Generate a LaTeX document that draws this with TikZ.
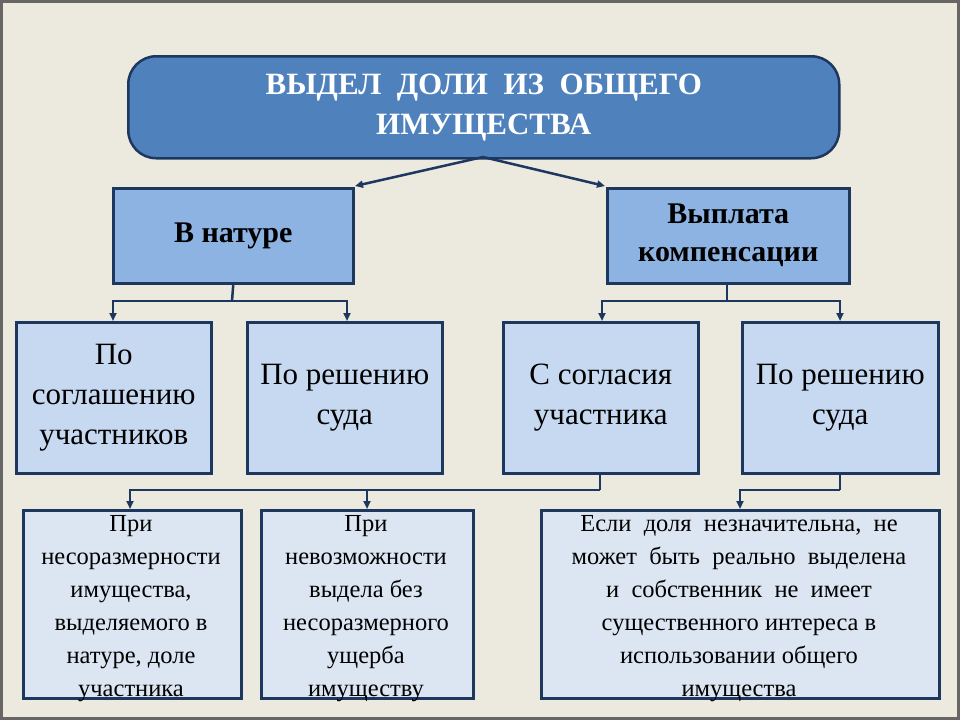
\documentclass[tikz,border=0pt]{standalone}
\usepackage{fontspec}
\setmainfont{Liberation Serif}
\usetikzlibrary{arrows.meta}
\definecolor{navy}{RGB}{30,55,95}
\definecolor{topblue}{RGB}{79,129,189}
\definecolor{midblue}{RGB}{141,179,226}
\definecolor{lightblue}{RGB}{198,217,241}
\definecolor{paleblue}{RGB}{220,230,242}
\definecolor{bg}{RGB}{236,233,222}
\tikzset{
 box/.style={draw=navy,line width=2.5pt,anchor=north west,inner sep=0pt,align=center},
 conn/.style={draw=navy,line width=2.5pt},
 arr/.style={conn,-{Triangle[length=8pt,width=7pt]}},
 t4/.style={anchor=north,align=center,inner sep=0pt,font=\fontsize{24.5}{33}\selectfont},
}
\begin{document}
\begin{tikzpicture}[x=1pt,y=-1pt]
\useasboundingbox (0,0) rectangle (960,720);
\fill[bg] (0,0) rectangle (960,720);
\draw[black!60,line width=3pt] (1.5,1.5) rectangle (958.5,718.5);
\node[box,fill=topblue,rounded corners=28pt,minimum width=711pt,minimum height=102pt,text=white,font=\bfseries\fontsize{31}{40}\selectfont] (top) at (127,55) {ВЫДЕЛ\ \ ДОЛИ\ \ ИЗ\ \ ОБЩЕГО\\ ИМУЩЕСТВА};
\node[box,fill=midblue,minimum width=240pt,minimum height=95pt,font=\bfseries\fontsize{30}{36}\selectfont] (nat) at (112,187) {\raisebox{-4pt}{В натуре}};
\node[box,fill=midblue,minimum width=242pt,minimum height=95pt,font=\bfseries\fontsize{30}{38}\selectfont] (comp) at (606,187) {Выплата\\ компенсации};
\tikzset{r3/.style={box,fill=lightblue,minimum width=195pt,minimum height=151pt,font=\fontsize{31}{40}\selectfont}}
\node[r3] (a) at (15,321) {По\\ соглашению\\ участников};
\node[r3] (b) at (246,321) {По решению\\ суда};
\node[r3] (c) at (502,321) {С согласия\\ участника};
\node[r3,minimum width=196pt] (d) at (741,321) {По решению\\ суда};
\tikzset{r4/.style={box,fill=paleblue,minimum height=188pt}}
\node[r4,minimum width=218pt] (e) at (22,509) {};
\node[r4,minimum width=212pt] (f) at (260,509) {};
\node[r4,minimum width=398pt] (g) at (540,509) {};
\node[t4] (et) at (131,515) {При\\ несоразмерности\\ имущества,\\ выделяемого в\\ натуре, доле\\ участника};
\node[t4] (ft) at (366,515) {При\\ невозможности\\ выдела без\\ несоразмерного\\ ущерба\\ имуществу};
\node[t4] (gt) at (739,515) {Если\ \ доля\ \ незначительна,\ \ не\\ может\ \ быть\ \ реально\ \ выделена\\ и\ \ собственник\ \ не\ \ имеет\\ существенного интереса в\\ использовании общего\\ имущества};
% connectors
\coordinate (tb) at (483,157);
\draw[arr] (tb) -- (355,186);
\draw[arr] (tb) -- (605,186);
\coordinate (n1) at (232,301);
\draw[conn] (nat.south) -- (n1);
\draw[arr] (n1) -| (a.north -| 113,0);
\draw[arr] (n1) -| (b.north -| 347,0);
\coordinate (n2) at (727,301);
\draw[conn] (comp.south -| n2) -- (n2);
\draw[arr] (n2) -| (c.north -| 602,0);
\draw[arr] (n2) -| (d.north -| 840,0);
\coordinate (c1) at (600,490);
\draw[conn] (c.south -| c1) -- (c1);
\draw[arr] (c1) -| (e.north -| 130,0);
\draw[arr] (367,490) -- (f.north -| 367,0);
\coordinate (d1) at (840,490);
\draw[conn] (d.south -| d1) -- (d1);
\draw[arr] (d1) -| (g.north -| 740,0);
\end{tikzpicture}
\end{document}
